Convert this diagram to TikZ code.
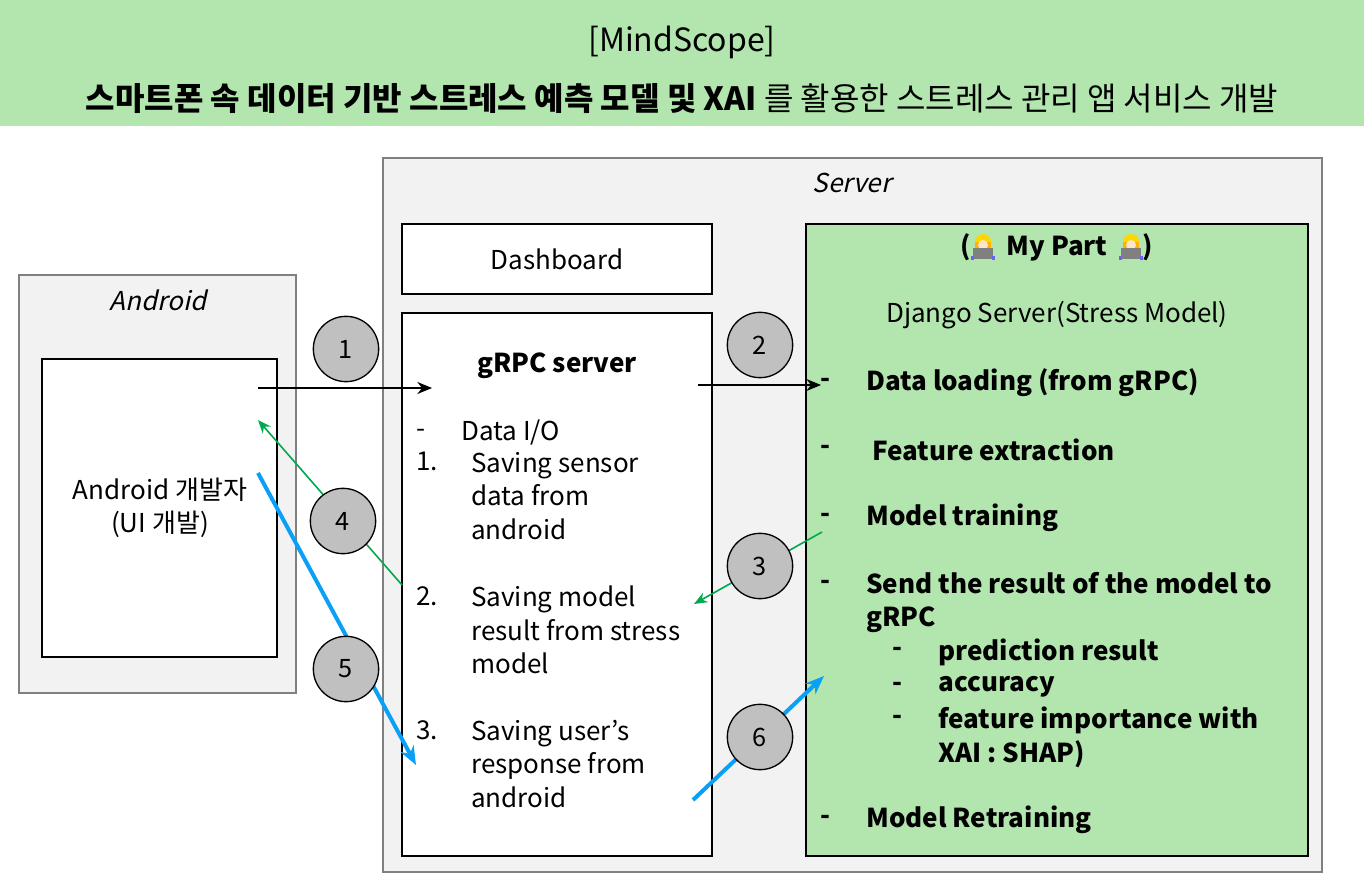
\documentclass[tikz,border=0pt]{standalone}
\usepackage{fontspec}
\setmainfont{Noto Sans CJK KR}[AutoFakeSlant=0.22]
\usetikzlibrary{arrows.meta}
\definecolor{ttl}{HTML}{B3E5AE}
\definecolor{bgg}{HTML}{F2F2F2}
\definecolor{brd}{HTML}{808080}
\definecolor{grn}{HTML}{00A84F}
\definecolor{blu}{HTML}{0AA0F5}
\definecolor{cir}{HTML}{C0C0C0}
\tikzset{
 box/.style={draw=black,line width=1.2pt,fill=white},
 num/.style={circle,draw=black,line width=1pt,fill=cir,minimum size=49pt,inner sep=0pt,font=\fontsize{19}{20}\selectfont},
 t/.style={font=\fontsize{19.5}{25}\selectfont,inner sep=0pt},
 b/.style={font=\bfseries\fontsize{19.5}{25}\selectfont,inner sep=0pt,anchor=west},
 blk/.style={-{Stealth[length=11pt,width=9pt]},line width=1.3pt},
 gar/.style={-{Stealth[length=10pt,width=8pt]},line width=1.2pt,draw=grn},
 bar/.style={-{Stealth[length=14pt,width=11pt]},line width=3pt,draw=blu},
}
\newcommand{\coder}[1]{\begin{scope}[shift={#1}]
 \fill[yellow!75!orange] (0,-4) circle (8);
 \fill[orange!60!yellow] (-8,-4) rectangle (8,4);
 \fill[white!80!orange] (0,-1) circle (5);
 \fill[gray] (-10,2) rectangle (10,13);
 \fill[blue!60] (-12,10) rectangle (-9,14); \fill[blue!60] (9,10) rectangle (12,14);
\end{scope}}
\begin{document}
\begin{tikzpicture}[x=0.75pt,y=-0.75pt]
\useasboundingbox (0,0) rectangle (1364,874);
\fill[ttl] (0,0) rectangle (1364,126);
\node[t,font=\fontsize{24}{28}\selectfont] (title1) at (682,42) {[MindScope]};
\node[t,font=\fontsize{24}{28}\selectfont] (title2) at (682,99) {\textbf{스마트폰 속 데이터 기반 스트레스 예측 모델 및 XAI} 를 활용한 스트레스 관리 앱 서비스 개발};
% server
\draw[draw=brd,fill=bgg,line width=1.2pt] (383,158) rectangle (1322,872);
\node[t] (srv) at (852,183) {\itshape Server};
% android
\draw[draw=brd,fill=bgg,line width=1.2pt] (19,275) rectangle (296,693);
\node[t] (and) at (158,300) {\itshape Android};
\draw[box] (42,359) rectangle (277,657);
\node[t,align=center] (dev) at (160,508) {Android 개발자\\(UI 개발)};
% dashboard
\draw[box] (402,224) rectangle (712,294);
\node[t] (dash) at (557,259) {Dashboard};
% grpc
\draw[box] (402,313) rectangle (712,856);
\node[b,anchor=center] (grpc) at (557,366) {gRPC server};
\begin{scope}[every node/.style={t,anchor=west,align=left}]
\node (g0a) at (416,433) {-};
\node (g0) at (461,433) {Data I/O};
\node[anchor=north west] (g1a) at (416,452) {1.};
\node[anchor=north west] (g1) at (471,452) {Saving sensor\\data from\\android};
\node[anchor=north west] (g2a) at (416,586) {2.};
\node[anchor=north west] (g2) at (471,586) {Saving model\\result from stress\\model};
\node[anchor=north west] (g3a) at (416,720) {3.};
\node[anchor=north west] (g3) at (471,720) {Saving user’s\\response from\\android};
\end{scope}
% my part
\draw[box,fill=ttl] (806,224) rectangle (1308,856);
\node[t,font=\bfseries\fontsize{19.5}{25}\selectfont] (mp) at (1057,247) {(\hspace{22pt} My Part \hspace{22pt})};
\coder{(983,246)} \coder{(1131,246)}
\node[t] (dj) at (1057,315) {Django Server(Stress Model)};
\begin{scope}[every node/.style={b}]
\node (d1) at (820,383) {-};
\node (m1) at (866,383) {Data loading (from gRPC)};
\node (d2) at (820,450) {-};
\node (m2) at (872,450) {Feature extraction};
\node (d3) at (820,518) {-};
\node (m3) at (866,518) {Model training};
\node (d4) at (820,585) {-};
\node[align=left,anchor=north west] (m4) at (866,572) {Send the result of the model to\\gRPC};
\node (d5) at (892,652) {-};
\node (m5) at (938,652) {prediction result};
\node (d6) at (892,687) {-};
\node (m6) at (938,687) {accuracy};
\node (d7) at (892,720) {-};
\node[align=left,anchor=north west] (m7) at (938,707) {feature importance with\\XAI : SHAP)};
\node (d8) at (820,820) {-};
\node (m8) at (866,820) {Model Retraining};
\end{scope}
% connectors
\coordinate (a1s) at (258,388); \coordinate (a1e) at (432,388);
\coordinate (a2s) at (698,385); \coordinate (a2e) at (821,385);
\coordinate (a3s) at (822,532); \coordinate (a3e) at (694,604);
\coordinate (a4s) at (402,585); \coordinate (a4e) at (258,420);
\coordinate (a5s) at (258,473); \coordinate (a5e) at (416,765);
\coordinate (a6s) at (693,800); \coordinate (a6e) at (824,676);
\draw[blk] (a1s) -- (a1e);
\draw[blk] (a2s) -- (a2e);
\draw[gar] (a3s) -- (a3e);
\draw[gar] (a4s) -- (a4e);
\draw[bar] (a5s) -- (a5e);
\draw[bar] (a6s) -- (a6e);
\node[num] (n1) at (346,349) {1};
\node[num] (n2) at (760,345) {2};
\node[num] (n3) at (760,566) {3};
\node[num] (n4) at (343,521) {4};
\node[num] (n5) at (346,669) {5};
\node[num] (n6) at (760,737) {6};
\end{tikzpicture}
\end{document}
